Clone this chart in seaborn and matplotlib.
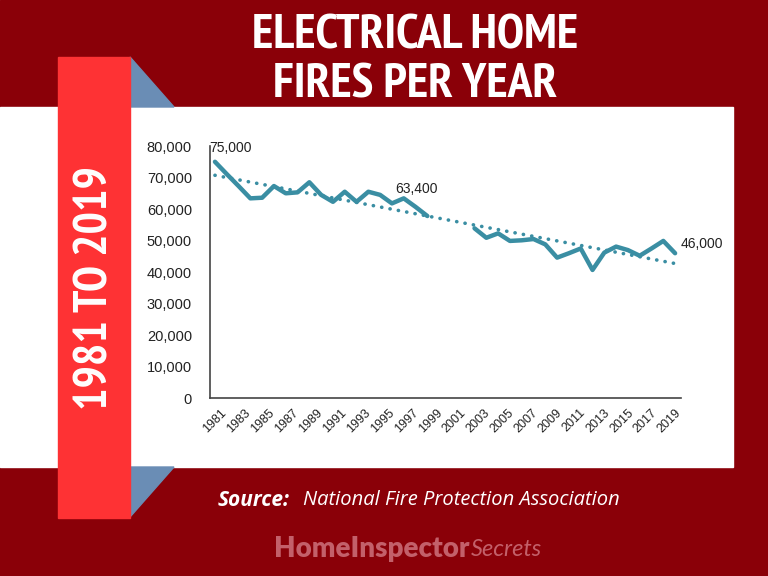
import numpy as np
import pandas as pd
import matplotlib
matplotlib.use("Agg")
import matplotlib.pyplot as plt
import matplotlib.font_manager as fm
import seaborn as sns
from matplotlib.patches import Rectangle, Polygon
from matplotlib.ticker import FuncFormatter

# ---------------- data ----------------
years_early = list(range(1980, 1999))
fires_early = [75000, 71100, 67300, 63400, 63600, 67300, 65000, 65300, 68500, 64500,
               62300, 65500, 62300, 65500, 64500, 61800, 63400, 60700, 57800]
years_late = list(range(2002, 2020))
fires_late = [53900, 50900, 52300, 49900, 50100, 50500, 48800, 44600, 46000, 47500,
              40700, 46200, 48100, 47000, 45200, 47500, 49900, 46000]
tick_labels = [str(y) for y in range(1981, 2020, 2)]
y_ticks = [0, 10000, 20000, 30000, 40000, 50000, 60000, 70000, 80000]
callouts = [(1980, 75000, "75,000"), (1996, 63400, "63,400"), (2019, 46000, "46,000")]

title_text = "ELECTRICAL HOME\nFIRES PER YEAR"
banner_text = "1981 TO 2019"
source_bold = "Source:"
source_text = "National Fire Protection Association"

df = pd.DataFrame({
    "year": years_early + years_late,
    "fires": fires_early + fires_late,
    "segment": ["a"] * len(years_early) + ["b"] * len(years_late),
})

# ---------------- style ----------------
sns.set_theme(style="white")
plt.rcParams["font.family"] = ["Liberation Sans", "DejaVu Sans"]


def pick_condensed_bold():
    cands = []
    for f in fm.fontManager.ttflist:
        name = f.name
        stretch = str(f.stretch).lower()
        narrow = ("narrow" in name.lower() or "condensed" in name.lower()
                  or "condensed" in stretch or "narrow" in f.fname.lower()
                  or "condensed" in f.fname.lower())
        w = f.weight
        try:
            w = int(w)
        except (TypeError, ValueError):
            w = {"bold": 700, "heavy": 800, "black": 900, "extra bold": 800,
                 "semibold": 600, "demibold": 600}.get(str(w).lower(), 400)
        if narrow and w >= 600 and "mono" not in name.lower() and "serif" not in name.lower():
            pri = 0 if "Narrow" in name else (1 if "Roboto" in name else 2)
            cands.append((pri, -w, f.fname))
    if cands:
        cands.sort()
        return fm.FontProperties(fname=cands[0][2])
    return fm.FontProperties(family="DejaVu Sans", weight="bold")


cond_fp = pick_condensed_bold()

W, H = 768, 576
fig = plt.figure(figsize=(W / 100, H / 100), dpi=100)

BG_RED = "#8a0008"
BANNER_RED = "#fe3234"
TRI_BLUE = "#6a8db5"
TEAL = "#3a8ea3"

# background axes in pixel coordinates
bg = fig.add_axes([0, 0, 1, 1])
bg.set_xlim(0, W)
bg.set_ylim(H, 0)
bg.axis("off")
bg.add_patch(Rectangle((0, 0), W, H, color=BG_RED, zorder=0))
bg.add_patch(Rectangle((0, 107), 733, 360, color="white", zorder=1))
bg.add_patch(Polygon([(130, 57), (174, 107), (130, 107)], color=TRI_BLUE, zorder=2))
bg.add_patch(Polygon([(130, 467), (174, 467), (130, 517)], color=TRI_BLUE, zorder=2))
bg.add_patch(Rectangle((58, 57), 72, 461, color=BANNER_RED, zorder=3))

t_title = bg.text(415, 61, title_text, ha="center", va="center", color="white",
                  fontproperties=cond_fp, fontsize=36, linespacing=1.12, zorder=5)
t_banner = bg.text(95, 288, banner_text, ha="center", va="center", rotation=90,
                   color="white", fontproperties=cond_fp, fontsize=38, zorder=5)

t_src_b = bg.text(218, 500, source_bold, ha="left", va="center", color="white",
                  fontsize=13, fontweight="bold", fontstyle="italic",
                  family=["Open Sans", "DejaVu Sans"], zorder=5)
t_src = bg.text(303, 500, source_text, ha="left", va="center", color="white",
                fontsize=13.5, fontstyle="italic",
                family=["Open Sans", "DejaVu Sans"], zorder=5)

logo_col = "#c3606a"
t_logo1 = bg.text(470, 549, "HomeInspector", ha="right", va="center", color=logo_col,
                  fontsize=18, fontweight="heavy", family=["Lato", "DejaVu Sans"], zorder=5)
bg.text(471, 549, "Secrets", ha="left", va="center", color=logo_col,
        fontsize=17, fontstyle="italic", family=["Lato", "DejaVu Sans"], zorder=5)


def fit_text(t, target, max_size, vertical=False):
    fig.canvas.draw()
    bb = t.get_window_extent(fig.canvas.get_renderer())
    size = bb.height if vertical else bb.width
    new = t.get_fontsize() * target / size
    t.set_fontsize(min(new, max_size))


fit_text(t_title, 326, 37)
fit_text(t_banner, 243, 39, vertical=True)
fit_text(t_src_b, 76, 15)
fit_text(t_src, 344, 14.5)
fit_text(t_logo1, 195, 20)

# ---------------- chart ----------------
ax = fig.add_axes([210 / W, (H - 398.3) / H, 471 / W, 252.3 / H])
ax.set_facecolor("none")
ax.set_zorder(10)

# trend line (linear fit of the data)
coef = np.polyfit(df["year"], df["fires"], 1)
trend_x = np.array([years_early[0], years_late[-1]])
ax.plot(trend_x, np.polyval(coef, trend_x), color=TEAL, lw=2.6,
        linestyle=(0, (0.05, 2.3)), dash_capstyle="round", solid_capstyle="round")

sns.lineplot(data=df, x="year", y="fires", units="segment", estimator=None,
             color=TEAL, lw=3.2, ax=ax, legend=False)

ax.set_xlim(1979.58, 2019.5)
ax.set_ylim(0, 80000)
ax.set_yticks(y_ticks)
ax.yaxis.set_major_formatter(FuncFormatter(lambda v, p: f"{int(v):,}"))
ax.set_xticks(np.linspace(1980.5, 2019.0, len(tick_labels)))
ax.set_xticklabels(tick_labels, rotation=45, ha="right", rotation_mode="anchor")
ax.tick_params(axis="y", length=0, pad=13, labelsize=10.5, labelcolor="#222222")
ax.tick_params(axis="x", length=0, pad=6, labelsize=9, labelcolor="#222222")
ax.set_xlabel("")
ax.set_ylabel("")
for side in ["top", "right"]:
    ax.spines[side].set_visible(False)
for side in ["left", "bottom"]:
    ax.spines[side].set_color("#444444")
    ax.spines[side].set_linewidth(1.2)

offsets = {"75,000": (-4, 10), "63,400": (-6, 6.5), "46,000": (4, 6.5)}
for x, y, lab in callouts:
    ax.annotate(lab, (x, y), xytext=offsets[lab], textcoords="offset points",
                ha="left", va="center", fontsize=10, color="#222222")

fig.savefig("out.png", dpi=100)
